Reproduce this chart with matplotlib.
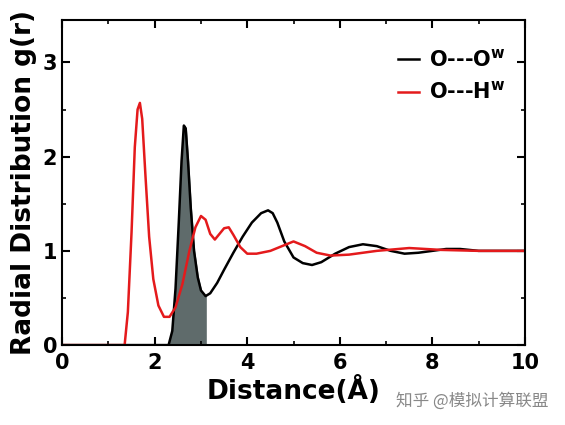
import matplotlib
matplotlib.use("Agg")
import matplotlib.pyplot as plt

oo_x = [0, 2.3, 2.38, 2.45, 2.52, 2.58, 2.63, 2.67, 2.72, 2.78, 2.85, 2.93, 3.0, 3.1, 3.2, 3.35, 3.5, 3.7, 3.9, 4.1, 4.3, 4.45, 4.55, 4.65, 4.8, 5.0, 5.2, 5.4, 5.6, 5.9, 6.2, 6.5, 6.8, 7.1, 7.4, 7.7, 8.0, 8.3, 8.6, 9.0, 9.5, 10]
oo_y = [0, 0, 0.15, 0.6, 1.3, 1.95, 2.33, 2.3, 1.95, 1.45, 1.0, 0.72, 0.58, 0.52, 0.55, 0.66, 0.8, 0.98, 1.15, 1.3, 1.4, 1.43, 1.4, 1.3, 1.1, 0.93, 0.87, 0.85, 0.88, 0.97, 1.04, 1.07, 1.05, 1.0, 0.97, 0.98, 1.0, 1.02, 1.02, 1.0, 1.0, 1.0]
oh_x = [0, 1.35, 1.42, 1.5, 1.57, 1.63, 1.68, 1.73, 1.8, 1.88, 1.97, 2.08, 2.2, 2.32, 2.45, 2.6, 2.75, 2.88, 3.0, 3.1, 3.2, 3.3, 3.4, 3.5, 3.6, 3.7, 3.85, 4.0, 4.2, 4.5, 4.75, 5.0, 5.25, 5.5, 5.8, 6.2, 6.8, 7.5, 8.2, 9.0, 10]
oh_y = [0, 0, 0.35, 1.2, 2.1, 2.5, 2.57, 2.4, 1.8, 1.15, 0.7, 0.42, 0.3, 0.3, 0.4, 0.65, 1.0, 1.25, 1.37, 1.33, 1.18, 1.12, 1.18, 1.24, 1.25, 1.17, 1.04, 0.97, 0.97, 1.0, 1.05, 1.1, 1.05, 0.98, 0.95, 0.96, 1.0, 1.03, 1.01, 1.0, 1.0]

fig = plt.figure(figsize=(5.65, 4.25), dpi=100)
ax = fig.add_axes([0.11, 0.188, 0.819, 0.765])
sx = [x for x in oo_x if x <= 3.1]
sy = oo_y[:len(sx)]
ax.fill_between(sx, 0, sy, color='#5f6b6b')
ax.plot(oo_x, oo_y, color='black', lw=1.8, label='O---O$^{\\mathbf{w}}$')
ax.plot(oh_x, oh_y, color='#e41a1c', lw=1.8, label='O---H$^{\\mathbf{w}}$')
ax.set_xlim(0, 10)
ax.set_ylim(0, 3.45)
ax.set_xticks([0, 2, 4, 6, 8, 10])
ax.set_yticks([0, 1, 2, 3])
ax.set_xticks([1, 3, 5, 7, 9], minor=True)
ax.set_yticks([0.5, 1.5, 2.5], minor=True)
ax.tick_params(direction='in', labelsize=15, width=1.5, length=6, top=True, right=True)
ax.tick_params(which='minor', direction='in', width=1.2, length=3, top=True, right=True)
ax.tick_params(axis='x', pad=6)
for l in ax.get_xticklabels() + ax.get_yticklabels():
    l.set_fontweight('bold')
for s in ax.spines.values():
    s.set_linewidth(1.5)
ax.set_xlabel('Distance(Å)', fontsize=19, fontweight='bold', labelpad=2)
ax.set_ylabel('Radial Distribution g(r)', fontsize=19, fontweight='bold', labelpad=4)
leg = ax.legend(loc='upper right', bbox_to_anchor=(1.0, 0.97), frameon=False, handlelength=1.0,
                prop={'weight': 'bold', 'size': 15}, handletextpad=0.5)
fig.text(0.70, 0.045, '知乎 @模拟计算联盟', fontsize=12, color='#888888',
         family=['Noto Sans CJK SC', 'DejaVu Sans'])
fig.savefig('out.png', dpi=100)
